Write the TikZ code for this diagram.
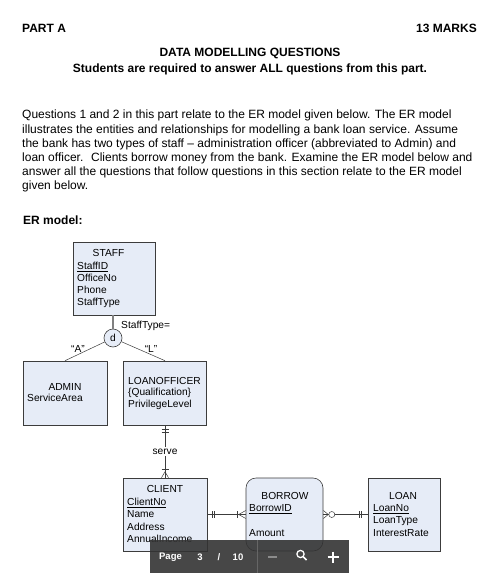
\documentclass[tikz,border=0pt]{standalone}
\usepackage{fontspec}
\setmainfont{Liberation Sans}
\usetikzlibrary{positioning,calc}

\definecolor{entfill}{HTML}{E6ECF7}
\definecolor{entline}{HTML}{3C3C3C}
\definecolor{barfill}{HTML}{333333}

\begin{document}
\begin{tikzpicture}[
  x=1pt, y=-1pt,
  body/.style ={inner sep=0pt, font=\fontsize{12}{14.2}\selectfont},
  head/.style ={inner sep=0pt, font=\fontsize{12}{14}\selectfont\bfseries},
  ent/.style  ={rectangle, draw=entline, fill=entfill, line width=0.6pt, inner sep=0pt},
  ttl/.style  ={inner sep=0pt, font=\fontsize{10.2}{12}\selectfont, anchor=base},
  att/.style  ={inner sep=0pt, font=\fontsize{10.2}{12}\selectfont, align=left, anchor=north west},
  rel/.style  ={draw=entline, line width=0.5pt},
  tick/.style ={draw=entline, line width=0.5pt},
  barfont/.style={inner sep=0pt, text=white, font=\fontsize{9.5}{11}\selectfont\bfseries}
]
\useasboundingbox[fill=white] (0,0) rectangle (497,580);

% ---- Page header --------------------------------------------------------------
\node[head, anchor=base west] (part)  at (22,32.7)  {PART A};
\node[head, anchor=base east] (marks) at (477,32.7) {13 MARKS};
\node[head, anchor=base] (title) at (250,56.7) {DATA MODELLING QUESTIONS};
\node[head, anchor=base] (instr) at (250,72.7) {Students are required to answer ALL questions from this part.};

\node[body, anchor=north west, align=left] (intro) at (22,110) {%
Questions 1 and 2 in this part relate to the ER model given below. The ER model\\
illustrates the entities and relationships for modelling a bank loan service. Assume\\
the bank has two types of staff – administration officer (abbreviated to Admin) and\\
loan officer.~ Clients borrow money from the bank. Examine the ER model below and\\
answer all the questions that follow questions in this section relate to the ER model\\
given below.};

\node[head, anchor=base west] (ermodel) at (23,224) {ER model:};

% ---- Entities -----------------------------------------------------------------
\node[ent, minimum width=82pt, minimum height=73pt] (staff) at (114,278.5) {};
\node[ttl] (stafft) at (108.5,256.5) {STAFF};
\node[att] (staffa) at (77,262) {\underline{StaffID}\\OfficeNo\\Phone\\StaffType};

\node[ent, minimum width=84pt, minimum height=64pt] (admin) at (65,393) {};
\node[ttl] (admint) at (65,390.5) {ADMIN};
\node[ttl, anchor=base west] (admina) at (27,401.5) {ServiceArea};

\node[ent, minimum width=83pt, minimum height=64pt] (lo) at (165,393) {};
\node[att, font=\fontsize{10.2}{11.5}\selectfont] (loa) at (128,377)
  {LOANOFFICER\\\{Qualification\}\\PrivilegeLevel};

\node[ent, minimum width=84pt, minimum height=73pt] (client) at (165,514.5) {};
\node[ttl] (clientt) at (165,492.5) {CLIENT};
\node[att, font=\fontsize{10.2}{12.3}\selectfont] (clienta) at (127,498)
  {\underline{ClientNo}\\Name\\Address\\AnnualIncome};

\node[ent, rounded corners=10pt, minimum width=77pt, minimum height=73pt] (borrow) at (284.5,514.5) {};
\node[ttl] (borrowt) at (285,499.5) {BORROW};
\node[ttl, anchor=base west] (borrowk) at (249,511.5) {\underline{BorrowID}};
\node[ttl, anchor=base west] (borrowa) at (249,536.5) {Amount};

\node[ent, minimum width=72pt, minimum height=73pt] (loan) at (404,514.5) {};
\node[ttl] (loant) at (403,499.5) {LOAN};
\node[att, font=\fontsize{10.2}{12.5}\selectfont] (loana) at (373,504)
  {\underline{LoanNo}\\LoanType\\InterestRate};

% ---- Specialisation -------------------------------------------------------------
\node[circle, draw=entline, fill=entfill, line width=0.6pt, minimum size=18pt, inner sep=0pt,
      font=\fontsize{10.2}{12}\selectfont] (disj) at (113,338) {d};
\draw[line width=2.6pt, black!50] (staff.south -| disj) -- (disj.north);
\node[ttl, anchor=base west] (stype) at (121,328.5) {StaffType=};
\draw[rel] (disj) -- (admin.north);
\draw[rel] (disj) -- (lo.north);
\node[ttl] (qa) at (78,352) {“A”};
\node[ttl] (ql) at (151,352) {“L”};

% ---- Relationships --------------------------------------------------------------
\node[inner sep=1.5pt, font=\fontsize{10.2}{12}\selectfont] (serve) at ($(lo.south)!0.5!(client.north)$) {serve};
\draw[rel] (lo.south) -- (serve.north);
\draw[rel] (serve.south) -- (client.north);
\draw[tick] ($(lo.south)+(-3.5,4)$) -- ++(7,0);
\draw[tick] ($(lo.south)+(-3.5,7)$) -- ++(7,0);
\draw[tick] ($(client.north)+(-3.5,-8)$) -- ++(7,0);
\draw[tick] ($(client.north)+(0,-6)$) -- ($(client.north)+(-3.5,0)$);
\draw[tick] ($(client.north)+(0,-6)$) -- ($(client.north)+(3.5,0)$);

\draw[rel] (client.east) -- (borrow.west);
\draw[tick] ($(client.east)+(5,-3.5)$) -- ++(0,7);
\draw[tick] ($(client.east)+(7.3,-3.5)$) -- ++(0,7);
\draw[tick] ($(borrow.west)+(-8.5,-3.5)$) -- ++(0,7);
\draw[tick] ($(borrow.west)+(-7,0)$) -- ($(borrow.west)+(0,-4)$);
\draw[tick] ($(borrow.west)+(-7,0)$) -- ($(borrow.west)+(0,4)$);

\draw[rel] (borrow.east) -- (loan.west);
\draw[tick] ($(borrow.east)+(5,0)$) -- ($(borrow.east)+(0,-4)$);
\draw[tick] ($(borrow.east)+(5,0)$) -- ($(borrow.east)+(0,4)$);
\draw[tick, fill=white] ($(borrow.east)+(8.5,0)$) circle (3pt);
\draw[tick] ($(loan.west)+(-8.5,-3.5)$) -- ++(0,7);
\draw[tick] ($(loan.west)+(-6.2,-3.5)$) -- ++(0,7);

% ---- Viewer toolbar -------------------------------------------------------------
\node[rectangle, fill=barfill, fill opacity=0.9, minimum width=199pt, minimum height=33pt,
      inner sep=0pt] (bar) at (249.5,556.5) {};
\node[barfont] (pg)   at (170.5,557) {Page};
\node[barfont] (pgn)  at (200,557) {3};
\node[barfont] (pgs)  at (219,557) {/};
\node[barfont] (pgt)  at (238,557) {10};
\draw[black!60, line width=0.6pt] (bar.north -| 257,0) -- (bar.south -| 257,0);
\draw[black!45, line width=1.2pt] (268,557) -- (277,557);
\draw[white, line width=1.3pt] (300.5,554) circle (3.6pt);
\draw[white, line width=1.6pt] (303,556.5) -- (306.5,560);
\draw[white, line width=1.5pt] (327.5,557) -- (338.5,557);
\draw[white, line width=1.5pt] (333,551.5) -- (333,562.5);

\end{tikzpicture}
\end{document}
